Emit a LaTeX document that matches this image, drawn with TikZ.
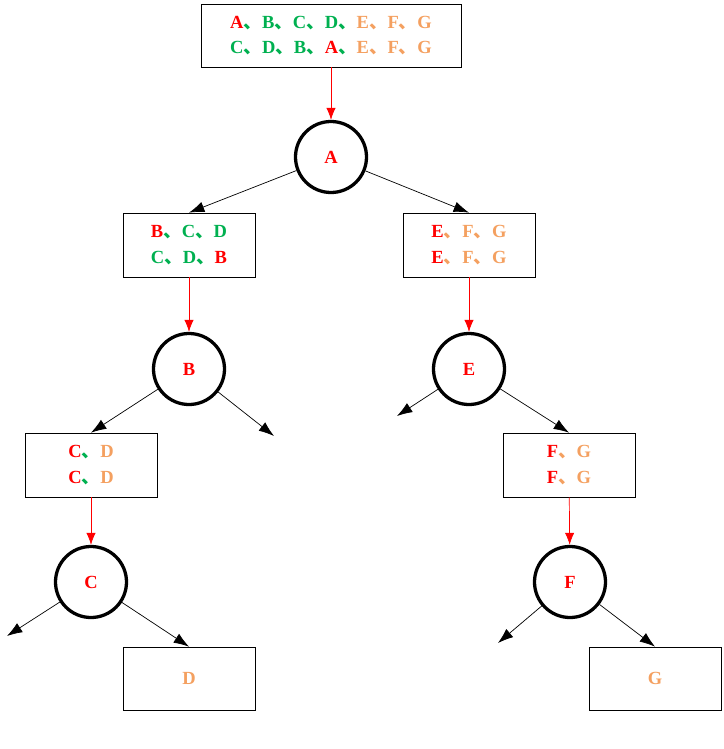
\documentclass[tikz,border=0pt]{standalone}
\usepackage{fontspec}
\setmainfont{Liberation Serif}
\newfontfamily\cjk{Noto Sans CJK SC}
\usetikzlibrary{arrows.meta}

\definecolor{rootred}{RGB}{255,0,0}
\definecolor{leftgreen}{RGB}{0,176,80}
\definecolor{rightorange}{RGB}{244,160,96}
\newcommand{\rt}[1]{\textcolor{rootred}{#1}}
\newcommand{\lft}[1]{\textcolor{leftgreen}{#1}}
\newcommand{\rgt}[1]{\textcolor{rightorange}{#1}}
\newcommand{\gdn}{\textcolor{leftgreen}{\cjk 、}}
\newcommand{\odn}{\textcolor{rightorange}{\cjk 、}}

\begin{document}
\begin{tikzpicture}[x=0.03cm,y=-0.03cm,>={Latex[length=4.6mm,width=3.2mm]},
        font=\fontsize{15.8}{22}\selectfont\bfseries,
        list node/.style={rectangle,draw,line width=0.6pt,inner sep=0pt,
          minimum width=3.96cm,minimum height=1.92cm,align=center},
        tree node/.style={circle,draw,line width=2.8pt,inner sep=0pt,minimum size=2.13cm},
        red arrow/.style={color=rootred,line width=0.6pt,
          -{Latex[length=3.6mm,width=2.8mm]}}]
        \useasboundingbox (0,0) rectangle (724,749);
        % sequences and roots
        \node[list node,minimum width=7.8cm,minimum height=1.89cm] (all) at (331,35.5)
          {\rt{A}\gdn\lft{B}\gdn\lft{C}\gdn\lft{D}\gdn\rgt{E}\odn\rgt{F}\odn\rgt{G}\\
           \lft{C}\gdn\lft{D}\gdn\lft{B}\gdn\rt{A}\gdn\rgt{E}\odn\rgt{F}\odn\rgt{G}};
        \node[tree node] (A) at (331,157) {\rt{A}};
        \node[list node] (bcd) at (189,245)
          {\rt{B}\gdn\lft{C}\gdn\lft{D}\\ \lft{C}\gdn\lft{D}\gdn\rt{B}};
        \node[list node] (efg) at (469,245)
          {\rt{E}\odn\rgt{F}\odn\rgt{G}\\ \rt{E}\odn\rgt{F}\odn\rgt{G}};
        \node[tree node] (B) at (189,369) {\rt{B}};
        \node[tree node] (E) at (469,369) {\rt{E}};
        \node[list node] (cd) at (91,465) {\rt{C}\gdn\rgt{D}\\ \rt{C}\gdn\rgt{D}};
        \node[list node] (fg) at (569,465) {\rt{F}\odn\rgt{G}\\ \rt{F}\odn\rgt{G}};
        \node[tree node] (C) at (91,582) {\rt{C}};
        \node[tree node] (F) at (570,582) {\rt{F}};
        \node[list node,minimum height=1.89cm] (d) at (189,678.5) {\rgt{D}};
        \node[list node,minimum height=1.89cm] (g) at (655,678.5) {\rgt{G}};
        % empty subtrees
        \coordinate (bnil) at (274,436);
        \coordinate (enil) at (397,416);
        \coordinate (cnil) at (7,636);
        \coordinate (fnil) at (498,643);
        \path[red arrow]
        (all) edge (A)
        (bcd) edge (B)
        (efg) edge (E)
        (cd) edge (C)
        (fg) edge (F)
        ;
        \path[->,line width=0.6pt]
        (A) edge (bcd.north)
        (A) edge (efg.north)
        (B) edge (cd.north)
        (B) edge (bnil)
        (E) edge (enil)
        (E) edge (fg.north)
        (C) edge (cnil)
        (C) edge (d.north)
        (F) edge (fnil)
        (F) edge (g.north)
        ;
\end{tikzpicture}
\end{document}
